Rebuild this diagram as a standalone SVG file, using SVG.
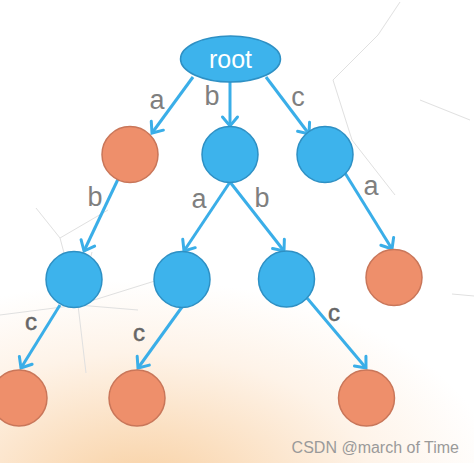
<svg xmlns="http://www.w3.org/2000/svg" width="474" height="463" viewBox="0 0 474 463">
<style>
.blue{fill:#3DB3EC;stroke:#2E90C4;stroke-width:1.5}
.orange{fill:#EE8F6B;stroke:#C97659;stroke-width:1.5}
.edge{stroke:#3AAEE8;stroke-width:3;fill:none;marker-end:url(#arr)}
.lbl{font-family:"Liberation Sans",Arial,sans-serif;font-size:27px;fill:#7F7F7F;text-anchor:middle}
.lbl2{font-family:"Liberation Sans",Arial,sans-serif;font-size:24px;fill:#666666;stroke:#666666;stroke-width:0.5;text-anchor:middle}
.deco{stroke:#E0E0E0;stroke-width:1;fill:none}
</style>
<defs>
<marker id="arr" markerUnits="userSpaceOnUse" markerWidth="20" markerHeight="20" viewBox="-12 -10 14 20" refX="0" refY="0" orient="auto">
<path d="M-9,-7.5 L0,0 L-9,7.5" fill="none" stroke="#3AAEE8" stroke-width="3" stroke-linecap="round" stroke-linejoin="miter"/>
</marker>
<radialGradient id="bg" gradientUnits="userSpaceOnUse" cx="0" cy="0" r="1" gradientTransform="translate(140 490) scale(360 210)">
<stop offset="0" stop-color="#F8D0A2"/>
<stop offset="0.3" stop-color="#FBE0C2"/>
<stop offset="0.65" stop-color="#FEF3E8"/>
<stop offset="1" stop-color="#FFFFFF"/>
</radialGradient>
</defs>
<rect x="0" y="0" width="474" height="463" fill="#FFFFFF"/>
<rect x="0" y="0" width="474" height="463" fill="url(#bg)"/>
<g id="decoration">
<path class="deco" d="M36,208 L60,238 L78,305 L86,373"/>
<path class="deco" d="M60,238 L108,210 M0,315 L78,305 L138,310 M78,305 L190,270 M78,305 L92,252"/>
<path class="deco" d="M400,2 L378,35 L333,80 L352,140 L395,195 M420,100 L470,120 M452,294 L474,296"/>
</g>
<g id="connectors">
<line class="edge" x1="193" y1="77" x2="152" y2="133"/>
<line class="edge" x1="230" y1="82" x2="230" y2="126"/>
<line class="edge" x1="266" y1="77" x2="309" y2="134"/>
<line class="edge" x1="120" y1="175" x2="84" y2="251"/>
<line class="edge" x1="230" y1="182" x2="184" y2="251"/>
<line class="edge" x1="230" y1="182" x2="284" y2="251"/>
<line class="edge" x1="345" y1="173" x2="392" y2="249"/>
<line class="edge" x1="60" y1="305" x2="21" y2="368"/>
<line class="edge" x1="182" y1="307" x2="138" y2="368"/>
<line class="edge" x1="307" y1="298" x2="366" y2="368"/>
</g>
<g id="labels">
<text class="lbl" x="157" y="109">a</text>
<text class="lbl" x="212" y="105">b</text>
<text class="lbl" x="298" y="106">c</text>
<text class="lbl" x="95" y="206">b</text>
<text class="lbl" x="199" y="208">a</text>
<text class="lbl" x="262" y="207">b</text>
<text class="lbl" x="371" y="195">a</text>
<text class="lbl2" x="31" y="330">c</text>
<text class="lbl2" x="139" y="341">c</text>
<text class="lbl2" x="334" y="321">c</text>
</g>
<g id="root">
<ellipse class="blue" cx="230.5" cy="59" rx="50" ry="23"/>
<text x="230.5" y="68" font-family="'Liberation Sans',Arial,sans-serif" font-size="25" fill="#FFFFFF" text-anchor="middle">root</text>
</g>
<g id="n1"><circle class="orange" cx="130" cy="154.5" r="28"/></g>
<g id="n2"><circle class="blue" cx="230" cy="154.5" r="28"/></g>
<g id="n3"><circle class="blue" cx="325" cy="154.5" r="28"/></g>
<g id="n4"><circle class="blue" cx="74" cy="279.5" r="28"/></g>
<g id="n5"><circle class="blue" cx="182" cy="279.5" r="28"/></g>
<g id="n6"><circle class="blue" cx="286.5" cy="279" r="28"/></g>
<g id="n7"><circle class="orange" cx="394" cy="277.5" r="28"/></g>
<g id="n8"><circle class="orange" cx="19" cy="398" r="28"/></g>
<g id="n9"><circle class="orange" cx="137" cy="398" r="28"/></g>
<g id="n10"><circle class="orange" cx="366.5" cy="398" r="28"/></g>
<text x="459" y="453" font-family="'Liberation Sans',Arial,sans-serif" font-size="16" fill="#9A9A9A" text-anchor="end">CSDN @march of Time</text>
</svg>
